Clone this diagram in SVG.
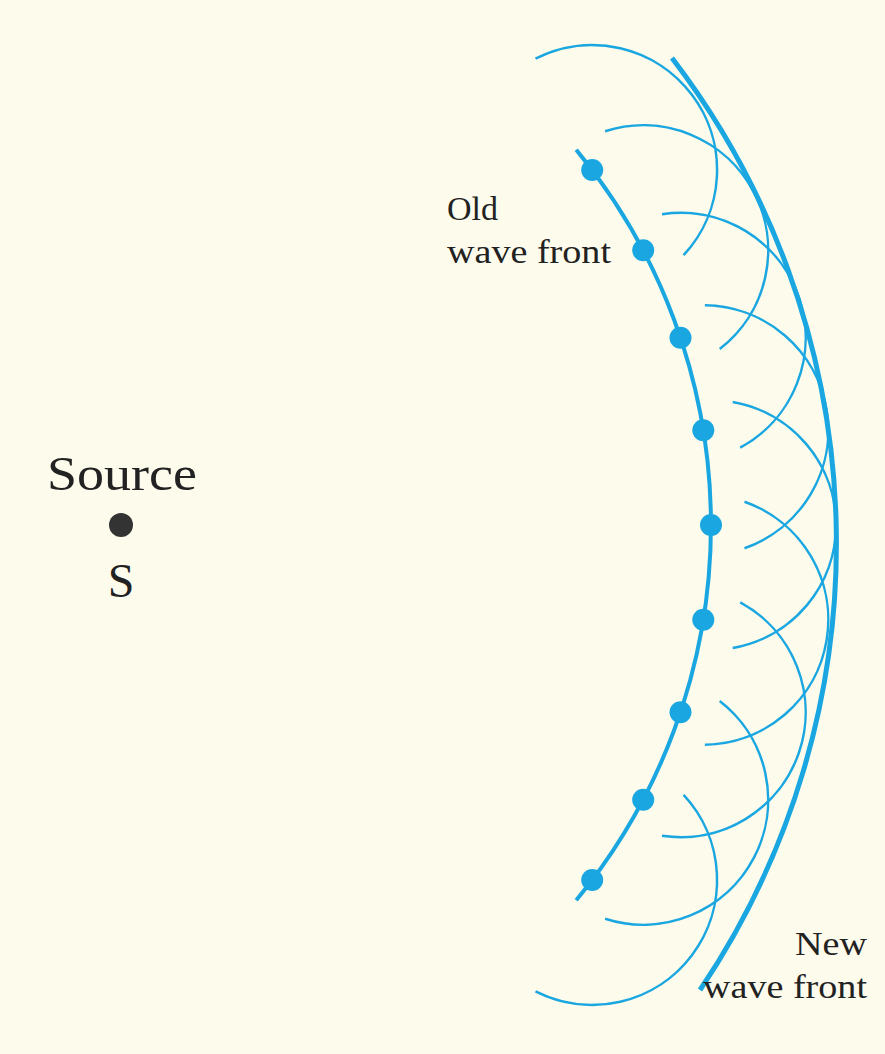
<svg xmlns="http://www.w3.org/2000/svg" width="885" height="1054" viewBox="0 0 885 1054">
<style>
.w{fill:none;stroke:#1aa7e1;stroke-width:2.5}
.t{font-family:"Liberation Serif",serif;fill:#222}
</style>
<rect x="0" y="0" width="885" height="1054" fill="#fdfbeb"/>
<g id="source"><circle cx="121" cy="525" r="12" fill="#333"/>
<text class="t" x="47" y="490" font-size="48" textLength="150" lengthAdjust="spacingAndGlyphs">Source</text>
<text class="t" x="121" y="597" font-size="48" text-anchor="middle">S</text></g>
<g id="connectors">
<path class="w" d="M535.5,58.6 A125,125 0 0 1 683.6,255.2"/>
<path class="w" d="M605.1,131.2 A125,125 0 0 1 719.7,349.1"/>
<path class="w" d="M662,214.2 A125,125 0 0 1 740.2,447.7"/>
<path class="w" d="M704.9,305.2 A125,125 0 0 1 744.5,548.2"/>
<path class="w" d="M732.7,401.9 A125,125 0 0 1 732.7,648.1"/>
<path class="w" d="M744.5,501.8 A125,125 0 0 1 704.9,744.8"/>
<path class="w" d="M740.2,602.3 A125,125 0 0 1 662,835.8"/>
<path class="w" d="M719.7,700.9 A125,125 0 0 1 605.1,918.8"/>
<path class="w" d="M683.6,794.8 A125,125 0 0 1 535.5,991.4"/>
</g>
<g id="old-front"><path d="M576.2,149.7 A590,590 0 0 1 576.2,900.3" fill="none" stroke="#1aa7e1" stroke-width="4"/>
<g fill="#1aa7e1">
<circle cx="592.2" cy="170" r="11"/><circle cx="643.2" cy="250.3" r="11"/><circle cx="680.5" cy="337.8" r="11"/>
<circle cx="703.3" cy="430.2" r="11"/><circle cx="711" cy="525" r="11"/><circle cx="703.3" cy="619.8" r="11"/>
<circle cx="680.5" cy="712.2" r="11"/><circle cx="643.2" cy="799.7" r="11"/><circle cx="592.2" cy="880" r="11"/></g>
<text class="t" x="447" y="220" font-size="34">Old</text>
<text class="t" x="447" y="263" font-size="34" textLength="164" lengthAdjust="spacingAndGlyphs">wave front</text></g>
<g id="new-front"><path d="M672,58 A799,799 0 0 1 700,990" fill="none" stroke="#1aa7e1" stroke-width="5"/>
<text class="t" x="795" y="955" font-size="34" textLength="72" lengthAdjust="spacingAndGlyphs">New</text>
<text class="t" x="703" y="998" font-size="34" textLength="164" lengthAdjust="spacingAndGlyphs">wave front</text></g>
</svg>
